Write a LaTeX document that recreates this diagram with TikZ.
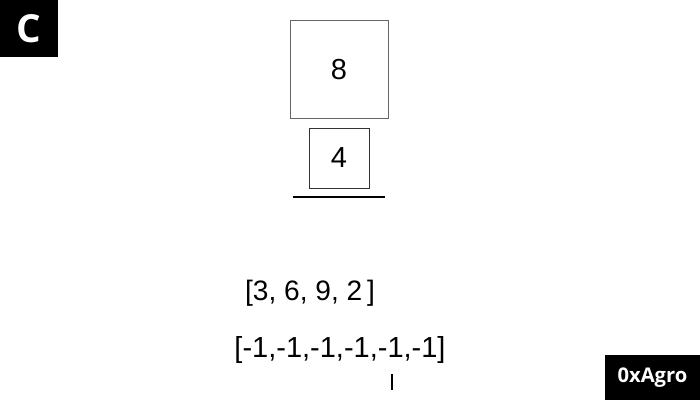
\documentclass[tikz,border=0pt]{standalone}
\usepackage{fontspec}
\setmainfont{Liberation Sans}
\newfontfamily\tagfont{Open Sans}
\begin{document}
\begin{tikzpicture}[x=0.02cm,y=-0.02cm,
  cell/.style={draw=gray!80!black, thin, inner sep=0pt},
  num/.style={font=\fontsize{16.5}{19}\selectfont},
  tag/.style={fill=black, text=white, inner sep=0pt}]
  \useasboundingbox (0,0) rectangle (700,400);

  % Panel letter
  \node[tag, minimum width=1.16cm, minimum height=1.14cm, font=\tagfont\bfseries\fontsize{22}{24}\selectfont] (panel) at (29,28.5) {C};

  % Stack of boxes
  \node[cell, minimum size=1.96cm, num] (top) at (339,69.5) {8};
  \node[cell, draw=black!80, minimum size=1.2cm, num] (below) at (339,158) {4};

  % Base of the stack
  \draw[semithick] (293,197) -- (385,197);

  % Arrays
  \node[num, font=\fontsize{16}{19}\selectfont] (input) at (310,293) {[3, 6, 9, 2\,]};
  \node[num] (result) at (340,350) {[-1,-1,-1,-1,-1,-1]};

  % Pointer
  \draw[semithick] (392,374) -- (392,390);

  % Signature
  \node[tag, minimum width=1.9cm, minimum height=0.9cm, font=\tagfont\bfseries\fontsize{11.5}{13}\selectfont] (sign) at (652.5,377.5) {0xAgro};
\end{tikzpicture}
\end{document}
